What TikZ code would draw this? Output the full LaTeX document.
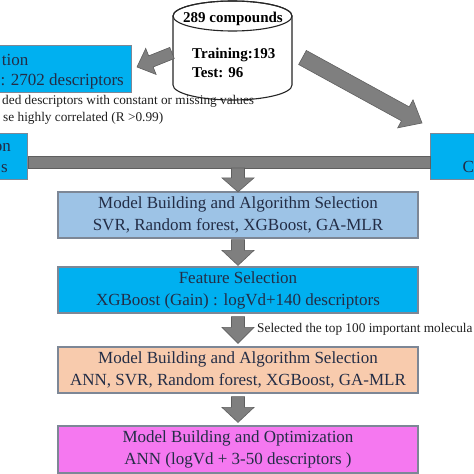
\documentclass[tikz,border=0pt]{standalone}
\usepackage{fontspec}
\setmainfont{Liberation Serif}
\usetikzlibrary{calc}
\definecolor{brightblue}{RGB}{0,176,240}
\definecolor{lightblue}{RGB}{157,195,230}
\definecolor{peach}{RGB}{248,203,173}
\definecolor{magentabox}{RGB}{245,120,240}
\definecolor{arrowgray}{RGB}{127,127,127}
\definecolor{arrowedge}{RGB}{95,95,95}
\definecolor{boxedge}{RGB}{125,135,150}
\definecolor{boxtext}{RGB}{35,45,70}
\definecolor{notetext}{RGB}{30,30,30}
\tikzset{
  blockarrowstyle/.style={fill=arrowgray, draw=arrowedge, line width=0.6pt, line join=miter},
  flowbox/.style={draw=boxedge, line width=1.2pt, minimum width=360pt, minimum height=46pt,
    inner sep=0pt, align=center, font=\fontsize{17}{22}\selectfont, text=boxtext},
  sidebox/.style={fill=brightblue, draw=boxedge, line width=1pt},
  boxfont/.style={font=\fontsize{17}{20}\selectfont, text=boxtext, inner sep=0pt},
  notefont/.style={font=\fontsize{13.3}{16}\selectfont, text=notetext, inner sep=0pt},
  cylfont/.style={font=\fontsize{15}{18}\selectfont\bfseries, text=black, inner sep=0pt},
  cylline/.style={draw=black!85, line width=1.1pt, fill=white}
}
\newcommand{\blockarrow}[5]{%
  \coordinate (ba-h) at ($(#2)!#5!(#1)$);
  \filldraw[blockarrowstyle] ($(#1)!#3!90:(#2)$) -- ($(ba-h)!#3!90:(#2)$) -- ($(ba-h)!#4!90:(#2)$)
    -- (#2) -- ($(ba-h)!#4!-90:(#2)$) -- ($(ba-h)!#3!-90:(#2)$) -- ($(#1)!#3!-90:(#2)$) -- cycle;
}
\begin{document}
\begin{tikzpicture}[x=1pt,y=1pt]
\useasboundingbox (0,0) rectangle (474,-474);
\clip (0,0) rectangle (474,-474);

% cylinder (data set)
\filldraw[cylline] (173,-16) -- (173,-85)
  arc[start angle=180, end angle=360, x radius=59.5pt, y radius=15pt]
  -- (292,-16) arc[start angle=0, end angle=180, x radius=59.5pt, y radius=15pt] -- cycle;
\draw[cylline, fill=none] (232.5,-16) ellipse [x radius=59.5pt, y radius=15pt];
\node[cylfont, anchor=base] (dbtitle) at (233,-22) {289 compounds};
\node[cylfont, anchor=base west] (dbtrain) at (192,-58.5) {Training:193};
\node[cylfont, anchor=base west] (dbtest) at (192,-77.5) {Test: 96};

% left boxes (cut by the frame)
\node[sidebox, minimum width=143pt, minimum height=47pt, anchor=north west] (lb1) at (-12,-45) {};
\node[boxfont, anchor=base east] (lb1a) at (28.5,-65.5) {tion};
\node[boxfont, anchor=base east] (lb1b) at (124,-85.5) {: 2702 descriptors};
\node[sidebox, minimum width=39pt, minimum height=46pt, anchor=north west] (lb2) at (-12,-133) {};
\node[boxfont, anchor=base east] (lb2a) at (11,-151.5) {on};
\node[boxfont, anchor=base east] (lb2b) at (8,-172.5) {s};

% right box
\node[sidebox, minimum width=60pt, minimum height=46pt, anchor=north west] (rb) at (430,-133) {};
\node[boxfont, anchor=base west] (rba) at (462.5,-172.5) {C};

% notes
\node[notefont, anchor=base west] (n1) at (2,-104) {ded descriptors with constant or missing values};
\node[notefont, anchor=base west] (n2) at (3,-121) {se highly correlated (R >0.99)};

% horizontal bar
\filldraw[blockarrowstyle] (lb2.east |- 0,-156) rectangle (rb.west |- 0,-168);

% main flow boxes
\node[flowbox, fill=lightblue] (b1) at (238,-215) {Model Building and Algorithm Selection\\SVR, Random forest, XGBoost, GA-MLR};
\node[flowbox, fill=brightblue] (b2) at (238,-290) {Feature Selection\\XGBoost (Gain) : logVd+140 descriptors};
\node[flowbox, fill=peach] (b3) at (238,-370) {Model Building and Algorithm Selection\\ANN, SVR, Random forest, XGBoost, GA-MLR};
\node[flowbox, fill=magentabox, minimum height=47pt] (b4) at (238,-449.5) {Model Building and Optimization\\ANN (logVd + 3-50 descriptors )};

\node[notefont, anchor=base west] (n3) at (257,-332) {Selected the top 100 important molecula};

% arrow end points
\coordinate (dbl) at (172,-53);
\coordinate (lb1t) at (137,-67);
\coordinate (dbr) at (302.5,-57.5);
\coordinate (rbt) at (422,-123);
\coordinate (a0s) at (b1.north |- 0,-168);
\coordinate (a0e) at ($(b1.north)+(0,-0.5)$);
\coordinate (a1s) at ($(b1.south)+(0,-1)$);
\coordinate (a1e) at ($(b2.north)+(0,1)$);
\coordinate (a2s) at ($(b2.south)+(0,-3)$);
\coordinate (a2e) at ($(b3.north)+(0,3)$);
\coordinate (a3s) at ($(b3.south)+(0,-3)$);
\coordinate (a3e) at ($(b4.north)+(0,3)$);

\blockarrow{dbl}{lb1t}{6pt}{14pt}{15pt}
\blockarrow{dbr}{rbt}{8pt}{16pt}{19pt}
\blockarrow{a0s}{a0e}{6.5pt}{16pt}{14pt}
\blockarrow{a1s}{a1e}{6.5pt}{16pt}{15pt}
\blockarrow{a2s}{a2e}{6.5pt}{16pt}{16pt}
\blockarrow{a3s}{a3e}{6.5pt}{16pt}{15pt}
\end{tikzpicture}
\end{document}
